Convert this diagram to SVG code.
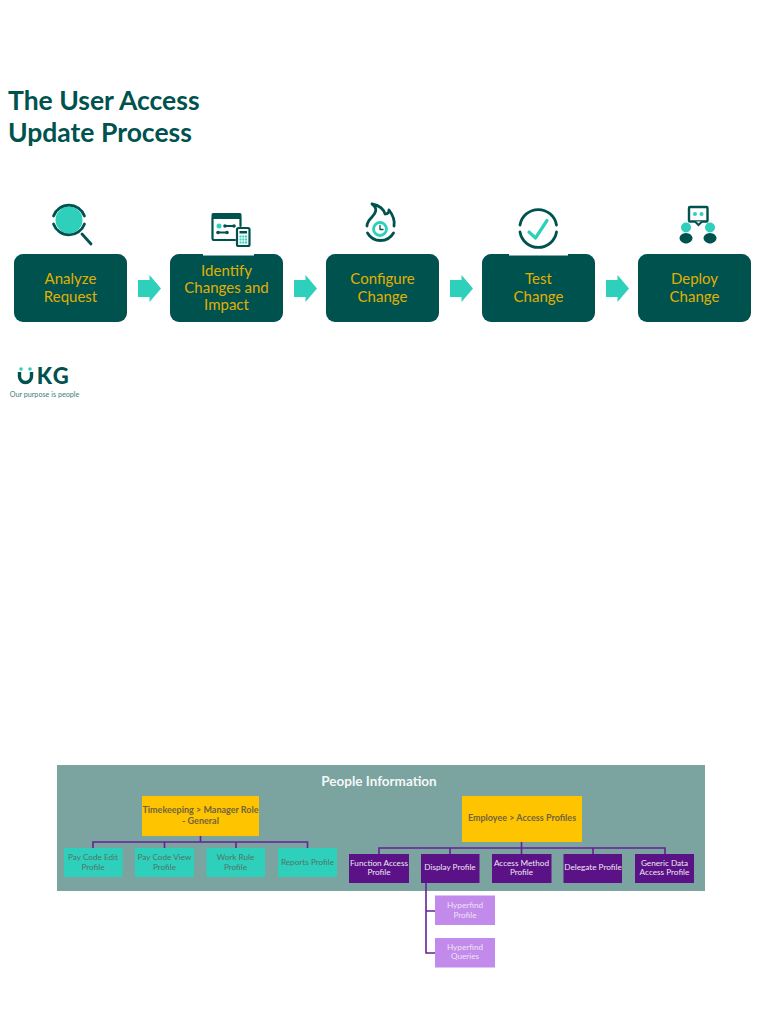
<svg xmlns="http://www.w3.org/2000/svg" width="768" height="1024" viewBox="0 0 768 1024">
<defs>
<style>
text{font-family:"Lato","Carlito","Open Sans",sans-serif;text-anchor:middle}
.title{font-size:26.5px;font-weight:700;fill:#00524f;text-anchor:start}
.step{fill:#00524f}
.steptext{font-size:15px;fill:#e0b000}
.arrow{fill:#2fd0bb}
.ink{fill:none;stroke:#00524f;stroke-width:2.8;stroke-linecap:round;stroke-linejoin:round}
.tealstroke{fill:none;stroke:#2fd0bb;stroke-width:3.2;stroke-linecap:round;stroke-linejoin:round}
.dark{fill:#00524f}
.teal{fill:#2fd0bb}
.y{fill:#ffc400}
.ytext{font-size:9px;font-weight:700;fill:#6f6340}
.t{fill:#2fd0bb}
.ttext{font-size:8.2px;fill:#4f7468}
.p{fill:#5a1286}
.ptext{font-size:8.2px;fill:#f0e6f4}
.l{fill:#c28aea}
.ltext{font-size:8.2px;fill:#efe2f6}
.link{fill:none;stroke:#6a1f9a;stroke-width:1.6}
</style>
<path id="arr" d="M0 5H11.500V0L23 13.500 11.500 27V22H0Z"/>
</defs>
<rect width="768" height="1024" fill="#fff"/>
<g id="title">
<text class="title" x="8" y="110">The User Access</text>
<text class="title" x="8" y="142">Update Process</text>
</g>

<g id="step-analyze"><rect class="step" x="14" y="254" width="113" height="68" rx="9"/>
<text class="steptext" x="70.500" y="283.500">Analyze</text><text class="steptext" x="70.500" y="301.500">Request</text></g>
<g id="step-identify"><rect class="step" x="170" y="254" width="113" height="68" rx="9"/>
<text class="steptext" x="226.500" y="275.500">Identify</text><text class="steptext" x="226.500" y="293">Changes and</text><text class="steptext" x="226.500" y="310">Impact</text></g>
<g id="step-configure"><rect class="step" x="326" y="254" width="113" height="68" rx="9"/>
<text class="steptext" x="382.500" y="283.500">Configure</text><text class="steptext" x="382.500" y="301.500">Change</text></g>
<g id="step-test"><rect class="step" x="482" y="254" width="113" height="68" rx="9"/>
<text class="steptext" x="538.500" y="283.500">Test</text><text class="steptext" x="538.500" y="301.500">Change</text></g>
<g id="step-deploy"><rect class="step" x="638" y="254" width="113" height="68" rx="9"/>
<text class="steptext" x="694.500" y="283.500">Deploy</text><text class="steptext" x="694.500" y="301.500">Change</text></g>

<g id="icon-analyze">
<circle class="teal" cx="69" cy="220" r="13.500"/>
<path class="ink" d="M53.500 216A16.500 16.500 0 0 1 84.500 216M84.500 224A16.500 16.500 0 0 1 53.500 224M82 234L91 244"/>
</g>
<g id="icon-identify">
<rect x="203" y="254" width="51" height="1.500" fill="#fff"/>
<path class="dark" d="M213 213H240Q241.500 213 241.500 215V219H211.500V215Q211.500 213 213 213Z"/>
<path class="ink" style="stroke-width:2.200" d="M212.500 219V238Q212.500 240 214 240H235M240.500 219V226"/>
<circle class="teal" cx="219" cy="226" r="2.500"/>
<path class="ink" style="stroke-width:2" d="M225 226H234M218 232.500H227"/>
<circle class="dark" cx="225" cy="226" r="1.800"/><circle class="dark" cx="234" cy="226" r="1.800"/>
<circle class="dark" cx="218" cy="232.500" r="1.800"/><circle class="dark" cx="227" cy="232.500" r="1.800"/>
<rect class="ink" style="stroke-width:2.200" x="237" y="228" width="12.500" height="18" rx="1.500"/>
<rect class="dark" x="239.500" y="231" width="7.500" height="2.500"/>
<path class="teal" d="M239.500 235.500h2v2h-2zM242.300 235.500h2v2h-2zM245 235.500h2v2h-2zM239.500 238.500h2v2h-2zM242.300 238.500h2v2h-2zM245 238.500h2v2h-2zM239.500 241.500h2v2h-2zM242.300 241.500h2v2h-2zM245 241.500h2v2h-2z"/>
</g>
<g id="icon-configure">
<path class="ink" d="M372 204C378 208 376 213 372 217C368 221 367 224 367 226M372 204C380 205 384 210 385 214C388 214 389 212 389 210C393 215 395 220 394 226"/>
<path class="ink" d="M367.500 233A15 15 0 0 0 393.500 233"/>
<circle cx="380" cy="229" r="6.500" fill="none" stroke="#2fd0bb" stroke-width="2.800"/>
<path class="ink" style="stroke-width:1.300" d="M380 225.500V229.500H383"/>
</g>
<g id="icon-test">
<rect x="509" y="254" width="59" height="1.500" fill="#fff"/>
<path class="ink" d="M520 225A18.500 18.500 0 0 1 556.500 225M556.500 232A18.500 18.500 0 0 1 520 232"/>
<path class="tealstroke" d="M529 232L535.500 238L547 220.500"/>
</g>
<g id="icon-deploy">
<rect class="ink" style="stroke-width:2.400" x="689" y="207" width="18.500" height="14.500" rx="1"/>
<path d="M695 221.500L698.500 225L702 221.500" fill="#fff" stroke="#00524f" stroke-width="2"/>
<circle class="teal" cx="695" cy="214" r="2"/><circle class="teal" cx="701.500" cy="214" r="2"/>
<circle class="teal" cx="686" cy="227.500" r="5"/><circle class="teal" cx="710" cy="227.500" r="5"/>
<path class="dark" d="M686 233C690 233 692.500 236 692.500 238C692.500 241 689 243.500 686 243.500C683 243.500 679.500 241 679.500 238C679.500 236 682 233 686 233Z"/>
<path class="dark" d="M710 233C714 233 716.500 236 716.500 238C716.500 241 713 243.500 710 243.500C707 243.500 703.500 241 703.500 238C703.500 236 706 233 710 233Z"/>
</g>

<g id="step-connectors" class="arrow">
<use href="#arr" x="138" y="275"/>
<use href="#arr" x="294" y="275"/>
<use href="#arr" x="450" y="275"/>
<use href="#arr" x="606" y="275"/>
</g>

<g id="logo">
<circle class="teal" cx="21" cy="369" r="1.800"/><circle class="teal" cx="30" cy="369" r="1.800"/>
<path d="M19.500 372V376.500A6 6 0 0 0 31.500 376.500V372" fill="none" stroke="#00524f" stroke-width="3.400"/>
<text x="53.500" y="383.500" style="font-size:22px;font-weight:900;letter-spacing:1.500px;fill:#00524f">KG</text>
<text x="44.500" y="397" style="font-size:7.200px;fill:#3f7d80">Our purpose is people</text>
</g>

<g id="panel"><rect x="57" y="765" width="648" height="126" fill="#7ba3a0"/>
<text x="379" y="785.500" style="font-size:13.500px;font-weight:700;fill:#f4f8f7">People Information</text></g>

<g id="connectors" class="link">
<path d="M200.500 836V842M93 848V842H307.500V848M164.500 842V848M236 842V848"/>
<path d="M521.500 842V848M379 854V848H665V854M450 848V854M593 848V854M521.500 848V854"/>
<path d="M426 883V953H435M426 911H435"/>
</g>

<g id="role-manager"><rect class="y" x="142" y="796" width="117" height="40"/>
<text class="ytext" x="200.500" y="812.500">Timekeeping &gt; Manager Role</text><text class="ytext" x="200.500" y="824">- General</text></g>
<g id="role-employee"><rect class="y" x="462" y="796" width="120" height="46"/>
<text class="ytext" x="522" y="821">Employee &gt; Access Profiles</text></g>

<g id="pay-code-edit"><rect class="t" x="64" y="848" width="58.500" height="29"/><text class="ttext" x="93" y="860">Pay Code Edit</text><text class="ttext" x="93" y="870">Profile</text></g>
<g id="pay-code-view"><rect class="t" x="135" y="848" width="59" height="29"/><text class="ttext" x="164.500" y="860">Pay Code View</text><text class="ttext" x="164.500" y="870">Profile</text></g>
<g id="work-rule"><rect class="t" x="206.500" y="848" width="58.500" height="29"/><text class="ttext" x="235.500" y="860">Work Rule</text><text class="ttext" x="235.500" y="870">Profile</text></g>
<g id="reports"><rect class="t" x="278" y="848" width="59" height="29"/><text class="ttext" x="307.500" y="865">Reports Profile</text></g>

<g id="function-access"><rect class="p" x="349" y="854" width="60" height="29"/><text class="ptext" x="379" y="866">Function Access</text><text class="ptext" x="379" y="875">Profile</text></g>
<g id="display"><rect class="p" x="421" y="854" width="58.500" height="29"/><text class="ptext" x="450" y="870">Display Profile</text></g>
<g id="access-method"><rect class="p" x="492" y="854" width="59.500" height="29"/><text class="ptext" x="521.500" y="866">Access Method</text><text class="ptext" x="521.500" y="875">Profile</text></g>
<g id="delegate"><rect class="p" x="563.500" y="854" width="58.500" height="29"/><text class="ptext" x="593" y="870">Delegate Profile</text></g>
<g id="generic-data"><rect class="p" x="635" y="854" width="59" height="29"/><text class="ptext" x="664.500" y="866">Generic Data</text><text class="ptext" x="664.500" y="875">Access Profile</text></g>

<g id="hyperfind-profile"><rect class="l" x="435" y="895.500" width="60" height="29.500"/><text class="ltext" x="465" y="908">Hyperfind</text><text class="ltext" x="465" y="918">Profile</text></g>
<g id="hyperfind-queries"><rect class="l" x="435" y="938" width="60" height="29.500"/><text class="ltext" x="465" y="950">Hyperfind</text><text class="ltext" x="465" y="959">Queries</text></g>
</svg>
